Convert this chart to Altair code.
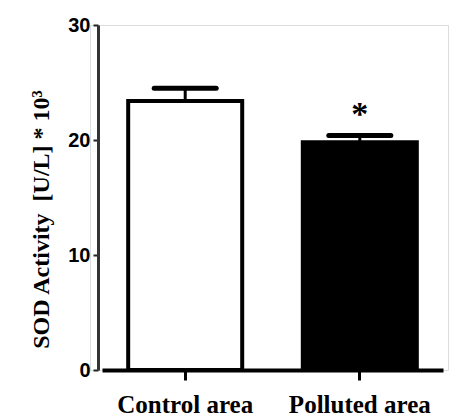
import altair as alt
import pandas as pd

categories = ["Control area", "Polluted area"]
means = [23.4, 19.8]
sems = [1.1, 0.6]
fills = ["white", "black"]
marks = ["", "*"]

df = pd.DataFrame({
    "area": categories,
    "mean": means,
    "sem": sems,
    "fill": fills,
    "mark": marks,
})
df["upper"] = df["mean"] + df["sem"]

serif = "Liberation Serif"

xscale = alt.Scale(domain=categories, paddingInner=0.347, paddingOuter=0.15, range=[12, 353])
yscale = alt.Scale(domain=[0, 30], nice=False)

xaxis = alt.Axis(
    title=None, labelAngle=0, labelFont=serif, labelFontWeight="bold",
    labelFontSize=25, labelColor="black", labelBaseline="alphabetic",
    labelPadding=32, tickSize=10, tickWidth=3, tickColor="black",
    domainColor="black", domainWidth=4, grid=False,
)
yaxis = alt.Axis(
    title="SOD Activity \u00a0[U/L] * 10³", values=[0, 10, 20, 30], grid=False,
    offset=-8, tickSize=5, tickWidth=2, tickColor="#222",
    domainColor="#333", domainWidth=3,
    labelFont="Liberation Sans", labelFontWeight="bold",
    labelFontSize=20, labelColor="black", labelPadding=3,
    titleFont=serif, titleFontWeight="bold", titleFontSize=24, titleColor="black",
    titleX=-50, titleY=194, titleBaseline="alphabetic", titleAngle=-90, titleAlign="center",
)

base = alt.Chart(df)
X = alt.X("area:N", scale=xscale, axis=xaxis, sort=categories)

bars = base.mark_bar(stroke="black", strokeWidth=4).encode(
    x=X,
    y=alt.Y("mean:Q", scale=yscale, axis=yaxis),
    fill=alt.Fill("fill:N", scale=None),
)

stem = base.mark_rule(color="black", strokeWidth=3).encode(
    x=X,
    y=alt.Y("mean:Q", scale=yscale, axis=yaxis),
    y2="upper:Q",
)

cap = base.mark_rule(color="black", strokeWidth=5, strokeCap="round",
                     xOffset=-31, x2Offset=31).encode(
    x=X,
    x2="area:N",
    y=alt.Y("upper:Q", scale=yscale, axis=yaxis),
)

star = base.mark_text(font=serif, fontWeight="bold", fontSize=34,
                      baseline="alphabetic", dy=-10, color="black").encode(
    x=X,
    y=alt.Y("upper:Q", scale=yscale, axis=yaxis),
    text="mark:N",
)

chart = alt.layer(bars, stem, cap, star).properties(
    width=358, height=345,
    autosize=alt.AutoSizeParams(type="none"),
    padding={"left": 82, "top": 17, "right": 10, "bottom": 50},
).configure_view(strokeWidth=0).configure(background="white")

chart.save("out.html", embed_options={"renderer": "svg", "actions": False})
